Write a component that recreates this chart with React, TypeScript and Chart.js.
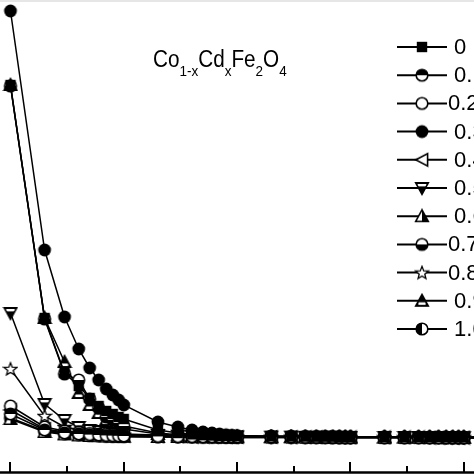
import React, { useEffect, useRef } from "react";
import { Chart, registerables } from "chart.js";
Chart.register(...registerables);

// frequency points (log axis)
const frequencies = [
  1, 2, 3, 4, 5, 6, 7, 8, 9, 10,
  20, 30, 40, 50, 60, 70, 80, 90, 100,
  200, 300, 400, 500, 600, 700, 800, 900, 1000,
  2000, 3000, 4000, 5000, 6000, 7000, 8000, 9000, 10000,
  20000,
];

const seriesLabels = ["0", "0.1", "0.2", "0.3", "0.4", "0.5", "0.6", "0.7", "0.8", "0.9", "1.0"];
const legendTexts = [" 0", " 0.1", "0.2", " 0.3", " 0.4", " 0.5", " 0.6", "0.7", "0.8", " 0.9", " 1.0"];
const markerKinds = ["square", "topHalf", "openCircle", "circle", "leftTri", "downTri", "upTriRight", "bottomHalf", "star", "upTriTop", "leftHalf"];

const s00 = [193.5, 77, 49.5, 43, 37, 33, 30.5, 29, 27.5, 26.5,
  21, 19.5, 18.8, 18.4, 18.2, 18, 18, 17.9, 17.9,
  17.8, 17.7, 17.7, 17.6, 17.6, 17.6, 17.5, 17.5, 17.5,
  17.5, 17.5, 17.5, 17.5, 17.5, 17.4, 17.4, 17.4, 17.4,
  17.4];
const s01 = [29, 21, 19.5, 19, 18.7, 18.5, 18.3, 18.2, 18.1, 18,
  17.8, 17.7, 17.7, 17.6, 17.6, 17.6, 17.5, 17.5, 17.5,
  17.5, 17.5, 17.4, 17.4, 17.4, 17.4, 17.4, 17.3, 17.3,
  17.3, 17.3, 17.3, 17.3, 17.2, 17.2, 17.2, 17.2, 17.2,
  17.2];
const s02 = [33, 22.5, 20.5, 19.8, 19.3, 19, 18.8, 18.6, 18.5, 18.4,
  18, 17.9, 17.8, 17.8, 17.7, 17.7, 17.7, 17.6, 17.6,
  17.6, 17.5, 17.5, 17.5, 17.5, 17.5, 17.4, 17.4, 17.4,
  17.4, 17.4, 17.4, 17.3, 17.3, 17.3, 17.3, 17.3, 17.3,
  17.3];
const s03 = [230.5, 111, 77.5, 61.5, 52, 46, 41.5, 38.5, 36, 33.5,
  25, 22.5, 21, 20, 19.5, 19, 18.6, 18.4, 18.2,
  18, 17.9, 17.8, 17.8, 17.7, 17.7, 17.7, 17.6, 17.6,
  17.6, 17.5, 17.5, 17.5, 17.5, 17.5, 17.5, 17.4, 17.4,
  17.4];
const s04 = [31, 21.5, 20, 19.4, 19, 18.7, 18.5, 18.4, 18.3, 18.2,
  17.9, 17.8, 17.7, 17.7, 17.6, 17.6, 17.6, 17.5, 17.5,
  17.5, 17.4, 17.4, 17.4, 17.4, 17.4, 17.3, 17.3, 17.3,
  17.3, 17.3, 17.3, 17.2, 17.2, 17.2, 17.2, 17.2, 17.2,
  17.2];
const s05 = [79.5, 34, 26, 22.5, 21, 20.5, 20, 19.5, 19.5, 19,
  18.5, 18.2, 18, 18, 17.9, 17.9, 17.8, 17.8, 17.8,
  17.7, 17.7, 17.6, 17.6, 17.6, 17.6, 17.5, 17.5, 17.5,
  17.5, 17.5, 17.5, 17.4, 17.4, 17.4, 17.4, 17.4, 17.4,
  17.4];
const s06 = [26.5, 20, 18.8, 18.3, 18, 17.9, 17.8, 17.7, 17.7, 17.6,
  17.5, 17.5, 17.4, 17.4, 17.4, 17.4, 17.3, 17.3, 17.3,
  17.3, 17.3, 17.2, 17.2, 17.2, 17.2, 17.2, 17.2, 17.1,
  17.1, 17.1, 17.1, 17.1, 17.1, 17.1, 17, 17, 17,
  17];
const s07 = [193, 76.5, 49, 46, 36.5, 32, 27.5, 26, 24.5, 23,
  19.5, 18.6, 18.3, 18.1, 18, 17.9, 17.9, 17.8, 17.8,
  17.7, 17.7, 17.7, 17.6, 17.6, 17.6, 17.6, 17.5, 17.5,
  17.5, 17.5, 17.5, 17.5, 17.5, 17.4, 17.4, 17.4, 17.4,
  17.4];
const s08 = [51.5, 28, 22.5, 21, 20, 19.5, 19.2, 19, 18.8, 18.6,
  18.2, 18, 17.9, 17.8, 17.8, 17.7, 17.7, 17.7, 17.6,
  17.6, 17.6, 17.5, 17.5, 17.5, 17.5, 17.5, 17.4, 17.4,
  17.4, 17.4, 17.4, 17.4, 17.3, 17.3, 17.3, 17.3, 17.3,
  17.3];
const s09 = [193.5, 77, 55, 39.5, 33.5, 29.5, 26, 24, 22.5, 21.5,
  19, 18.3, 18, 17.9, 17.8, 17.8, 17.7, 17.7, 17.7,
  17.6, 17.6, 17.6, 17.5, 17.5, 17.5, 17.5, 17.5, 17.4,
  17.4, 17.4, 17.4, 17.4, 17.4, 17.3, 17.3, 17.3, 17.3,
  17.3];
const s10 = [27, 20.5, 19, 18.5, 18.2, 18, 17.9, 17.8, 17.8, 17.7,
  17.5, 17.5, 17.5, 17.4, 17.4, 17.4, 17.4, 17.4, 17.3,
  17.3, 17.3, 17.3, 17.3, 17.3, 17.2, 17.2, 17.2, 17.2,
  17.2, 17.2, 17.2, 17.1, 17.1, 17.1, 17.1, 17.1, 17.1,
  17.1];
const seriesValues = [s00, s01, s02, s03, s04, s05, s06, s07, s08, s09, s10];

const majorTicks = [1, 10, 100, 1000, 10000];
const minorTicks = [3.1623, 31.623, 316.23, 3162.3];

const titleParts: { t: string; sub: boolean }[] = [
  { t: "Co", sub: false },
  { t: "1-x", sub: true },
  { t: "Cd", sub: false },
  { t: "x", sub: true },
  { t: "Fe", sub: false },
  { t: "2", sub: true },
  { t: "O", sub: false },
  { t: "4", sub: true },
];

const FONT = '"Liberation Sans", Arial, Helvetica, sans-serif';

function makeMarker(kind: string): HTMLCanvasElement {
  const c = document.createElement("canvas");
  c.width = 16;
  c.height = 16;
  const g = c.getContext("2d")!;
  g.translate(8, 8);
  g.lineWidth = 1.6;
  g.strokeStyle = "#000";
  g.fillStyle = "#000";
  const r = 5.8;
  const circle = () => {
    g.beginPath();
    g.arc(0, 0, r, 0, Math.PI * 2);
  };
  const half = (a0: number, a1: number) => {
    g.beginPath();
    g.arc(0, 0, r, a0, a1);
    g.closePath();
    g.fillStyle = "#000";
    g.fill();
  };
  const tri = (pts: number[][]) => {
    g.beginPath();
    g.moveTo(pts[0][0], pts[0][1]);
    for (let i = 1; i < pts.length; i++) g.lineTo(pts[i][0], pts[i][1]);
    g.closePath();
  };
  switch (kind) {
    case "square":
      g.fillRect(-5.2, -5.2, 10.4, 10.4);
      break;
    case "circle":
      g.beginPath();
      g.arc(0, 0, r + 0.6, 0, Math.PI * 2);
      g.fill();
      break;
    case "openCircle":
      circle();
      g.fillStyle = "#fff";
      g.fill();
      g.stroke();
      break;
    case "topHalf":
    case "bottomHalf":
    case "leftHalf":
      circle();
      g.fillStyle = "#fff";
      g.fill();
      if (kind === "topHalf") half(Math.PI, Math.PI * 2);
      if (kind === "bottomHalf") half(0, Math.PI);
      if (kind === "leftHalf") half(Math.PI / 2, Math.PI * 1.5);
      circle();
      g.stroke();
      break;
    case "leftTri":
      tri([[-6.2, 0], [5.6, -6.2], [5.6, 6.2]]);
      g.fillStyle = "#fff";
      g.fill();
      g.stroke();
      break;
    case "downTri": {
      const p = [[-6.3, -5.2], [6.3, -5.2], [0, 6.3]];
      tri(p);
      g.fillStyle = "#000";
      g.fill();
      g.fillStyle = "#fff";
      g.fillRect(-4.6, -4, 9.2, 2.4);
      tri(p);
      g.stroke();
      break;
    }
    case "upTriRight": {
      const p = [[0, -6.3], [6.3, 5.2], [-6.3, 5.2]];
      tri(p);
      g.fillStyle = "#fff";
      g.fill();
      g.save();
      tri(p);
      g.clip();
      g.fillStyle = "#000";
      g.fillRect(0, -7, 8, 14);
      g.restore();
      tri(p);
      g.stroke();
      break;
    }
    case "upTriTop": {
      const p = [[0, -6.3], [6.3, 5.2], [-6.3, 5.2]];
      tri(p);
      g.fillStyle = "#000";
      g.fill();
      g.fillStyle = "#fff";
      g.fillRect(-3.6, 1.5, 7.2, 2.6);
      tri(p);
      g.stroke();
      break;
    }
    case "star": {
      g.beginPath();
      for (let i = 0; i < 10; i++) {
        const rr = i % 2 === 0 ? 6.7 : 2.9;
        const a = -Math.PI / 2 + (i * Math.PI) / 5;
        const x = rr * Math.cos(a);
        const y = rr * Math.sin(a) + 0.5;
        if (i === 0) g.moveTo(x, y);
        else g.lineTo(x, y);
      }
      g.closePath();
      g.fillStyle = "#fff";
      g.fill();
      g.lineWidth = 1.3;
      g.stroke();
      break;
    }
  }
  return c;
}

export default function App() {
  const ref = useRef<HTMLCanvasElement | null>(null);

  useEffect(() => {
    const canvas = ref.current;
    if (!canvas) return;
    const markers = markerKinds.map((k) => makeMarker(k));

    const decor = {
      id: "decor",
      afterDraw(chart: any) {
        const ctx = chart.ctx as CanvasRenderingContext2D;
        const area = chart.chartArea;
        const xs = chart.scales.x;
        ctx.save();
        // faint top frame
        ctx.strokeStyle = "#e6e6e6";
        ctx.lineWidth = 2;
        ctx.beginPath();
        ctx.moveTo(0, 1);
        ctx.lineTo(chart.width, 1);
        ctx.stroke();
        // bottom axis
        ctx.strokeStyle = "#000";
        ctx.lineWidth = 2.4;
        ctx.beginPath();
        ctx.moveTo(0, area.bottom + 0.5);
        ctx.lineTo(chart.width, area.bottom + 0.5);
        ctx.stroke();
        ctx.lineWidth = 2;
        majorTicks.forEach((v) => {
          const px = Math.round(xs.getPixelForValue(v));
          ctx.beginPath();
          ctx.moveTo(px, area.bottom);
          ctx.lineTo(px, area.bottom - 10);
          ctx.stroke();
        });
        minorTicks.forEach((v) => {
          const px = Math.round(xs.getPixelForValue(v));
          ctx.beginPath();
          ctx.moveTo(px, area.bottom);
          ctx.lineTo(px, area.bottom - 6);
          ctx.stroke();
        });
        // title with subscripts
        ctx.fillStyle = "#000";
        ctx.textBaseline = "alphabetic";
        ctx.textAlign = "left";
        let tx = 153;
        titleParts.forEach((p) => {
          ctx.font = p.sub ? `15px ${FONT}` : `23px ${FONT}`;
          const w = ctx.measureText(p.t).width * 0.9;
          ctx.save();
          ctx.translate(tx, p.sub ? 76 : 67);
          ctx.scale(0.9, 1);
          ctx.fillText(p.t, 0, 0);
          ctx.restore();
          tx += w;
        });
        // legend
        ctx.font = `22px ${FONT}`;
        ctx.textBaseline = "middle";
        chart.data.datasets.forEach((ds: any, i: number) => {
          const y = 47 + i * 28.2;
          ctx.strokeStyle = "#000";
          ctx.lineWidth = 2;
          ctx.beginPath();
          ctx.moveTo(397, y);
          ctx.lineTo(447, y);
          ctx.stroke();
          const m = markers[i];
          ctx.drawImage(m, 422 - m.width / 2, y - m.height / 2);
          ctx.fillStyle = "#000";
          ctx.fillText(legendTexts[i], 448, y + 1);
        });
        ctx.restore();
      },
    };

    const chart = new Chart(canvas, {
      type: "line",
      data: {
        labels: frequencies,
        datasets: seriesValues.map((vals, i) => ({
          label: seriesLabels[i],
          data: vals.map((v, j) => ({ x: frequencies[j], y: v })),
          borderColor: "#000",
          borderWidth: 1.5,
          pointStyle: markers[i] as any,
          pointRadius: 6,
          backgroundColor: "#000",
          fill: false,
          tension: 0,
        })),
      },
      options: {
        responsive: false,
        animation: false,
        layout: { autoPadding: false, padding: { left: 0, right: 0, top: 0, bottom: 2 } },
        plugins: {
          legend: { display: false },
          title: { display: false },
          tooltip: { enabled: false },
        },
        scales: {
          x: { type: "logarithmic", min: 0.808, max: 12330, display: false },
          y: { type: "linear", min: 0, max: 236, display: false },
        },
      },
      plugins: [decor],
    });
    return () => chart.destroy();
  }, []);

  return (
    <div style={{ position: "absolute", left: 0, top: 0, width: 474, height: 474, background: "#fff" }}>
      <canvas ref={ref} width={474} height={474} style={{ display: "block" }} />
    </div>
  );
}
